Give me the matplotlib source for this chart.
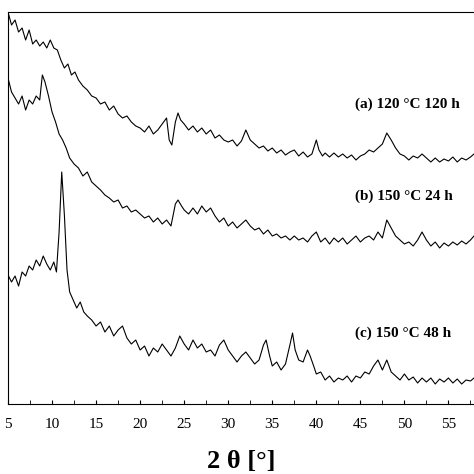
import numpy as np
import matplotlib
matplotlib.use("Agg")
import matplotlib.pyplot as plt

plt.rcParams['font.family'] = ['Liberation Serif', 'DejaVu Serif']

# values: depth below top of plot (larger = lower on page)
x_a = [5.0, 5.4, 5.8, 6.2, 6.6, 7.0, 7.4, 7.8, 8.2, 8.6, 9.0, 9.4, 9.8, 10.2, 10.6, 11.0, 11.4, 11.8, 12.2, 12.6,
       13.0, 13.5, 14.0, 14.5, 15.0, 15.5, 16.0, 16.5, 17.0, 17.5, 18.0, 18.5, 19.0, 19.5, 20.0, 20.5, 21.0, 21.5, 22.0, 22.5,
       23.0, 23.3, 23.6, 24.0, 24.3, 24.6, 25.0, 25.5, 26.0, 26.5, 27.0, 27.5, 28.0, 28.5, 29.0, 29.5, 30.0, 30.5, 31.0, 31.5,
       32.0, 32.5, 33.0, 33.5, 34.0, 34.5, 35.0, 35.5, 36.0, 36.5, 37.0, 37.5, 38.0, 38.5, 39.0, 39.5, 40.0, 40.3, 40.7, 41.0,
       41.5, 42.0, 42.5, 43.0, 43.5, 44.0, 44.5, 45.0, 45.5, 46.0, 46.5, 47.0, 47.5, 48.0, 48.5, 49.0, 49.5, 50.0, 50.5, 51.0,
       51.5, 52.0, 52.5, 53.0, 53.5, 54.0, 54.5, 55.0, 55.5, 56.0, 56.5, 57.0, 57.5, 57.9]
trace_a = [12, 25, 20, 32, 28, 40, 30, 44, 40, 46, 42, 48, 40, 48, 50, 60, 68, 64, 75, 72,
           80, 86, 90, 96, 98, 104, 102, 110, 106, 114, 118, 116, 122, 126, 128, 132, 126, 134, 130, 124,
           118, 140, 145, 122, 113, 120, 124, 130, 126, 132, 128, 134, 130, 138, 135, 140, 142, 140, 146, 141,
           130, 140, 144, 148, 146, 151, 148, 153, 150, 155, 152, 150, 156, 152, 157, 154, 140, 150, 156, 153,
           157, 153, 157, 154, 158, 155, 160, 156, 154, 150, 152, 148, 144, 133, 140, 148, 154, 156, 160, 156,
           158, 154, 158, 162, 158, 162, 159, 161, 157, 162, 158, 160, 157, 154]

x_b = [5.0, 5.4, 5.8, 6.2, 6.6, 7.0, 7.4, 7.8, 8.2, 8.6, 8.9, 9.2, 9.6, 10.0, 10.4, 10.8, 11.2, 11.6, 12.0, 12.5,
       13.0, 13.5, 14.0, 14.5, 15.0, 15.5, 16.0, 16.5, 17.0, 17.5, 18.0, 18.5, 19.0, 19.5, 20.0, 20.5, 21.0, 21.5, 22.0, 22.5,
       23.0, 23.5, 24.0, 24.3, 24.7, 25.0, 25.5, 26.0, 26.5, 27.0, 27.5, 28.0, 28.5, 29.0, 29.5, 30.0, 30.5, 31.0, 31.5, 32.0,
       32.5, 33.0, 33.5, 34.0, 34.5, 35.0, 35.5, 36.0, 36.5, 37.0, 37.5, 38.0, 38.5, 39.0, 39.5, 40.0, 40.5, 41.0, 41.5, 42.0,
       42.5, 43.0, 43.5, 44.0, 44.5, 45.0, 45.5, 46.0, 46.5, 47.0, 47.5, 48.0, 48.5, 49.0, 49.5, 50.0, 50.5, 51.0, 51.5, 52.0,
       52.5, 53.0, 53.5, 54.0, 54.5, 55.0, 55.5, 56.0, 56.5, 57.0, 57.5, 57.9]
trace_b = [78, 92, 98, 104, 96, 110, 100, 104, 96, 100, 75, 82, 96, 112, 122, 134, 140, 148, 158, 164,
           168, 176, 172, 182, 186, 190, 195, 198, 202, 200, 208, 206, 212, 210, 214, 218, 216, 222, 218, 224,
           220, 226, 204, 200, 206, 210, 214, 208, 214, 206, 212, 208, 216, 222, 218, 226, 222, 228, 224, 220,
           226, 230, 228, 234, 230, 236, 234, 238, 236, 240, 236, 240, 238, 242, 236, 232, 242, 238, 244, 238,
           242, 238, 244, 240, 236, 242, 238, 236, 240, 232, 238, 220, 228, 236, 240, 244, 242, 246, 240, 232,
           240, 246, 242, 248, 243, 246, 242, 245, 241, 244, 240, 236]

x_c = [5.0, 5.4, 5.8, 6.2, 6.6, 7.0, 7.4, 7.8, 8.2, 8.6, 9.0, 9.4, 9.8, 10.2, 10.5, 10.8, 11.1, 11.4, 11.7, 12.0,
       12.4, 12.8, 13.2, 13.6, 14.0, 14.5, 15.0, 15.5, 16.0, 16.5, 17.0, 17.5, 18.0, 18.5, 19.0, 19.5, 20.0, 20.5, 21.0, 21.5,
       22.0, 22.5, 23.0, 23.5, 24.0, 24.5, 25.0, 25.5, 26.0, 26.5, 27.0, 27.5, 28.0, 28.5, 29.0, 29.5, 30.0, 30.5, 31.0, 31.5,
       32.0, 32.5, 33.0, 33.5, 34.0, 34.3, 34.7, 35.0, 35.5, 36.0, 36.5, 37.0, 37.3, 37.6, 38.0, 38.5, 39.0, 39.3, 39.7, 40.0,
       40.5, 41.0, 41.5, 42.0, 42.5, 43.0, 43.5, 44.0, 44.5, 45.0, 45.5, 46.0, 46.5, 47.0, 47.5, 48.0, 48.5, 49.0, 49.5, 50.0,
       50.5, 51.0, 51.5, 52.0, 52.5, 53.0, 53.5, 54.0, 54.5, 55.0, 55.5, 56.0, 56.5, 57.0, 57.5, 57.9]
trace_c = [275, 282, 276, 286, 272, 276, 266, 270, 260, 266, 256, 264, 270, 262, 272, 232, 172, 215, 270, 292,
           300, 308, 302, 312, 316, 320, 326, 322, 332, 326, 336, 330, 326, 338, 344, 340, 350, 346, 356, 348,
           352, 344, 350, 356, 348, 336, 344, 350, 340, 348, 344, 352, 350, 356, 345, 340, 350, 356, 362, 356,
           352, 358, 364, 360, 345, 340, 356, 366, 362, 370, 364, 345, 333, 350, 360, 362, 350, 356, 366, 374,
           372, 380, 376, 382, 378, 380, 376, 382, 376, 378, 372, 374, 366, 360, 370, 360, 372, 376, 380, 374,
           380, 377, 383, 378, 382, 378, 384, 379, 382, 378, 383, 379, 384, 380, 381, 378]

labels = ["(a) 120 °C 120 h", "(b) 150 °C 24 h", "(c) 150 °C 48 h"]
label_y = [104, 196, 333]
x_ticks = [5, 10, 15, 20, 25, 30, 35, 40, 45, 50, 55]

fig = plt.figure(figsize=(4.74, 4.74), dpi=100)
ax = fig.add_axes([8 / 474, 70 / 474, 1 - 8 / 474, 392 / 474])

for xs, tr in ((x_a, trace_a), (x_b, trace_b), (x_c, trace_c)):
    ax.plot(xs, tr, color='black', lw=0.8)

ax.text(44.4, label_y[0], labels[0], ha='left', va='center', fontsize=11, fontweight='bold')
ax.text(44.4, label_y[1], labels[1], ha='left', va='center', fontsize=11, fontweight='bold')
ax.text(44.4, label_y[2], labels[2], ha='left', va='center', fontsize=11, fontweight='bold')

ax.set_xlim(5, 57.9)
ax.set_ylim(404, 12)
ax.set_xticks(x_ticks)
ax.set_xticks(np.arange(7.5, 58, 5), minor=True)
ax.tick_params(axis='x', which='both', direction='in', labelsize=11, pad=10, length=3)
ax.set_yticks([])
ax.spines['right'].set_visible(False)
ax.set_xlabel("2 θ [°]", fontsize=19, fontweight='bold', labelpad=14)

fig.savefig("out.png", dpi=100)
